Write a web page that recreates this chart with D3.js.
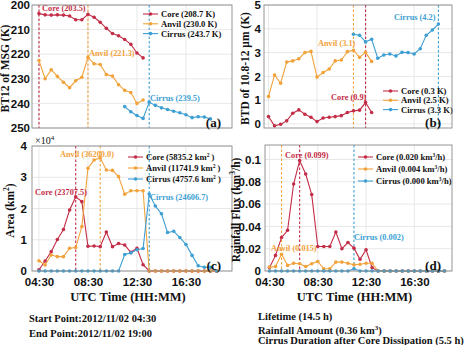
<!DOCTYPE html>
<html>
<head>
<meta charset="utf-8">
<script src="https://cdn.jsdelivr.net/npm/d3@7"></script>
<style>
  body { margin: 0; background: #fff; }
  svg { font-family: "Liberation Serif", "Times New Roman", serif; font-weight: bold; }
</style>
</head>
<body>
<svg id="fig" width="474" height="345"></svg>
<script>
// half-hourly samples of one convective system, 2012/11/02
const timeLabels = ["04:30","05:00","05:30","06:00","06:30","07:00","07:30","08:00","08:30","09:00",
  "09:30","10:00","10:30","11:00","11:30","12:00","12:30","13:00","13:30","14:00",
  "14:30","15:00","15:30","16:00","16:30","17:00","17:30","18:00","18:30","19:00"];
const tickLabels = ["04:30", "08:30", "12:30", "16:30"];
const N = null;

// (a) BT12 of MSG (K)
const coreBT = [203.5,204.0,204.1,204.0,204.1,204.5,206.0,206.0,203.8,205.0,207.0,209.5,211.6,212.5,214.0,216.0,219.5,221.5,N,N,N,N,N,N,N,N,N,N,N,N];
const anvilBT = [222.6,230.0,226.3,229.0,231.4,233.6,230.8,229.4,221.3,223.9,224.2,228.3,228.9,232.4,234.7,235.6,240.0,238.6,N,N,N,N,N,N,N,N,N,N,N,N];
const cirrusBT = [N,N,N,N,N,N,N,N,N,N,N,N,N,N,241.3,243.4,244.9,246.1,239.5,240.8,241.8,242.5,243.2,243.8,244.6,245.8,245.4,245.5,246.3,N];

// (b) BTD of 10.8-12 um (K)
const coreBTD = [0.31,-0.08,-0.01,0.13,0.45,0.59,0.41,0.28,0.10,0.25,0.28,0.31,0.35,0.48,0.55,0.58,0.90,0.48,N,N,N,N,N,N,N,N,N,N,N,N];
const anvilBTD = [1.15,2.06,1.71,2.60,2.65,2.74,3.00,3.05,1.97,2.16,2.31,2.65,2.69,3.04,3.10,2.80,3.01,2.63,N,N,N,N,N,N,N,N,N,N,N,N];
const cirrusBTD = [N,N,N,N,N,N,N,N,N,N,N,N,N,N,3.77,3.73,3.45,3.56,2.76,2.90,2.94,2.86,3.01,3.00,2.94,3.16,3.73,3.95,4.20,N];

// (c) area (km^2)
const coreArea = [400,3200,6200,10100,13300,19500,23707.5,22200,7900,8000,7800,12500,7800,8800,8300,6000,7300,2000,0,0,0,0,0,0,0,0,0,0,0,0];
const anvilArea = [3300,1900,5100,4600,4600,7300,7500,14200,32900,35500,36200,32300,32200,30200,24600,25700,25700,25700,0,0,0,0,0,0,0,0,0,0,0,0];
const cirrusArea = [0,0,0,0,0,0,0,0,0,0,0,0,0,0,5300,5800,6800,7200,24606.7,20800,18300,12300,12700,10700,8500,5000,1700,1200,1200,0];

// (d) rainfall flux (km^3/h)
const coreFlux = [0.003,0.014,0.030,0.0365,0.078,0.099,0.087,0.0685,0.022,0.022,0.022,0.035,0.020,0.0255,0.0205,0.0105,0.019,0.003,0,0,0,0,0,0,0,0,0,0,0,0];
const anvilFlux = [0.0035,0.004,0.015,0.005,0.007,0.0065,0.004,0.0065,0.0085,0.002,0.002,0.008,0.008,0.007,0.0055,0.006,0.007,0.007,0,0,0,0,0,0,0,0,0,0,0,0];
const cirrusFlux = [0,0,0,0,0,0,0,0,0,0,0,0,0,0,0.002,0,0,0,0,0,0,0,0,0,0,0,0,0,0,0];

const legendBT = ["Core (208.7 K)", "Anvil (230.0 K)", "Cirrus (243.7 K)"];
const legendBTD = ["Core (0.3 K)", "Anvil (2.5 K)", "Cirrus (3.3 K)"];
const legendArea = [["Core (5835.2 km", "2", " )"], ["Anvil (11741.9 km", "2", " )"], ["Cirrus (4757.6 km", "2", " )"]];
const legendFlux = [["Core (0.020 km", "3", "/h)"], ["Anvil (0.004 km", "3", "/h)"], ["Cirrus (0.000 km", "3", "/h)"]];
const seriesNames = ["Core", "Anvil", "Cirrus"];
const colors = ["#c42d47", "#f2a23a", "#3d9fd3"];

const hourOf = s => +s.slice(0, 2) + +s.slice(3) / 60;
const hours = timeLabels.map(hourOf);
const tickHours = tickLabels.map(hourOf);

const svg = d3.select("#fig");

function drawPanel(p) {
  const g = svg.append("g");
  const x = d3.scaleLinear().domain(p.xDomain).range([p.left, p.right]);
  const y = d3.scaleLinear().domain(p.yDomain).range([p.bottom, p.top]);

  // grid
  g.selectAll(".vg").data(tickHours).join("line")
    .attr("x1", d => x(d)).attr("x2", d => x(d))
    .attr("y1", p.top).attr("y2", p.bottom)
    .attr("stroke", "#e2e2e2").attr("stroke-width", 0.8);
  g.selectAll(".hg").data(p.yTicks).join("line")
    .attr("x1", p.left).attr("x2", p.right)
    .attr("y1", d => y(d)).attr("y2", d => y(d))
    .attr("stroke", "#e2e2e2").attr("stroke-width", 0.8);

  // y axis
  const yAxis = d3.axisLeft(y).tickValues(p.yTicks).tickFormat(p.yFormat).tickSize(0).tickPadding(p.yPad);
  g.append("g").attr("transform", `translate(${p.left},0)`).call(yAxis)
    .call(a => a.select(".domain").remove())
    .selectAll("text").attr("font-family", null).attr("font-size", 11.5).attr("fill", "#111");

  // x axis labels only on the bottom row
  if (p.showX) {
    const xAxis = d3.axisBottom(x).tickValues(tickHours).tickFormat((d, i) => tickLabels[i]).tickSize(0).tickPadding(p.xPad);
    g.append("g").attr("transform", `translate(0,${p.bottom})`).call(xAxis)
      .call(a => a.select(".domain").remove())
      .selectAll("text").attr("font-family", null).attr("font-size", 11.5).attr("fill", "#111");
    g.append("text").attr("x", (p.left + p.right) / 2 - 4).attr("y", p.bottom + 30)
      .attr("text-anchor", "middle").attr("font-size", 12.5).attr("fill", "#111")
      .text("UTC Time (HH:MM)");
  }

  // y label
  const yl = g.append("text")
    .attr("transform", `translate(${p.yLabelX},${(p.top + p.bottom) / 2 + 2}) rotate(-90)`)
    .attr("text-anchor", "middle").attr("font-size", 11.5).attr("fill", "#111");
  p.yLabel.forEach((part, i) => {
    const t = yl.append("tspan").text(part);
    if (i === 1) t.attr("font-size", 7.5).attr("dy", -5);
    if (i === 2) t.attr("dy", 5);
  });

  // peak markers: dashed verticals
  p.series.forEach((vals, k) => {
    const idx = p.useMin ? d3.minIndex(vals) : d3.maxIndex(vals);
    g.append("line")
      .attr("x1", x(hours[idx])).attr("x2", x(hours[idx]))
      .attr("y1", p.top).attr("y2", p.bottom)
      .attr("stroke", colors[k]).attr("stroke-width", 1.1).attr("stroke-dasharray", "2.5,2");
  });

  // series
  p.series.forEach((vals, k) => {
    const pts = vals.map((v, i) => ({ t: hours[i], v })).filter(d => d.v != null);
    const line = d3.line().x(d => x(d.t)).y(d => y(d.v));
    g.append("path").datum(pts).attr("d", line)
      .attr("fill", "none").attr("stroke", colors[k]).attr("stroke-width", 1.1);
    g.selectAll(null).data(pts).join("circle")
      .attr("cx", d => x(d.t)).attr("cy", d => y(d.v)).attr("r", 1.8)
      .attr("fill", colors[k]);
  });

  // peak labels
  p.series.forEach((vals, k) => {
    const idx = p.useMin ? d3.minIndex(vals) : d3.maxIndex(vals);
    const a = p.notes[k];
    g.append("text").attr("x", a[0]).attr("y", a[1])
      .attr("font-size", 8.3).attr("fill", colors[k])
      .text(`${seriesNames[k]} (${vals[idx].toFixed(p.digits)})`);
  });

  // legend
  p.legend.forEach((lab, k) => {
    const ly = p.legendY + k * p.legendGap;
    g.append("line").attr("x1", p.legendX).attr("x2", p.legendX + 15)
      .attr("y1", ly).attr("y2", ly).attr("stroke", colors[k]).attr("stroke-width", 1.1);
    g.append("circle").attr("cx", p.legendX + 7.5).attr("cy", ly).attr("r", 1.8).attr("fill", colors[k]);
    const t = g.append("text").attr("x", p.legendX + 18).attr("y", ly + 3)
      .attr("font-size", 8.6).attr("fill", "#111");
    const parts = Array.isArray(lab) ? lab : [lab];
    parts.forEach((part, i) => {
      const s = t.append("tspan").text(part);
      if (i === 1) s.attr("font-size", 5.5).attr("dy", -3.5);
      if (i === 2) s.attr("dy", 3.5);
    });
  });

  // box
  g.append("rect").attr("x", p.left).attr("y", p.top)
    .attr("width", p.right - p.left).attr("height", p.bottom - p.top)
    .attr("fill", "none").attr("stroke", "#8a8a8a").attr("stroke-width", 0.9);

  g.append("text").attr("x", p.right - 11).attr("y", p.bottom - 1.5)
    .attr("text-anchor", "end").attr("font-size", 13).attr("fill", "#111").text(p.tag);
}

drawPanel({
  left: 32, right: 232, top: 5, bottom: 128, xDomain: [3.93, 20.26],
  yDomain: [250, 200], yTicks: [200, 210, 220, 230, 240, 250], yFormat: d3.format("d"), yPad: 2,
  yLabel: ["BT12 of MSG (K)"], yLabelX: 9, showX: false,
  series: [coreBT, anvilBT, cirrusBT], useMin: true, digits: 1,
  notes: [[42, 11], [89, 56], [150, 101]],
  legend: legendBT, legendX: 143, legendY: 14, legendGap: 9.8, tag: "(a)"
});

drawPanel({
  left: 264, right: 452, top: 5, bottom: 128, xDomain: [4.13, 19.62],
  yDomain: [-0.17, 5], yTicks: [0, 1, 2, 3, 4, 5], yFormat: d3.format("d"), yPad: 3,
  yLabel: ["BTD of 10.8-12 \u03bcm (K)"], yLabelX: 249, showX: false,
  series: [coreBTD, anvilBTD, cirrusBTD], useMin: false, digits: 1,
  notes: [[331, 100], [318, 46], [394, 20]],
  legend: legendBTD, legendX: 383, legendY: 91, legendGap: 9.3, tag: "(b)"
});

drawPanel({
  left: 32, right: 232, top: 146, bottom: 271, xDomain: [3.93, 20.26],
  yDomain: [0, 40000], yTicks: [0, 10000, 20000, 30000, 40000], yFormat: d => d / 1e4, yPad: 5,
  yLabel: ["Area (km", "2", ")"], yLabelX: 14, showX: true, xPad: 7,
  series: [coreArea, anvilArea, cirrusArea], useMin: false, digits: 1,
  notes: [[35, 195], [60, 157], [150, 200]],
  legend: legendArea, legendX: 128, legendY: 157, legendGap: 11, tag: "(c)"
});

drawPanel({
  left: 265, right: 452, top: 145, bottom: 271, xDomain: [4.13, 19.62],
  yDomain: [0, 0.113], yTicks: [0, 0.02, 0.04, 0.06, 0.08, 0.1], yFormat: d => String(+d.toFixed(2)), yPad: 4,
  yLabel: ["Rainfall Flux (km", "3", "/h)"], yLabelX: 240, showX: true, xPad: 7,
  series: [coreFlux, anvilFlux, cirrusFlux], useMin: false, digits: 3,
  notes: [[285, 158], [271, 251], [354, 240]],
  legend: legendFlux, legendX: 358, legendY: 157, legendGap: 12, tag: "(d)"
});

// exponent above panel (c)
const ex = svg.append("text").attr("x", 35).attr("y", 144).attr("font-size", 10).attr("font-weight", "normal").attr("fill", "#111");
ex.append("tspan").text("\u00d710");
ex.append("tspan").text("4").attr("font-size", 7).attr("dy", -4);

// summary text
const info = [
  { x: 29, y: 322, parts: ["Start Point:2012/11/02 04:30"] },
  { x: 29, y: 337, parts: ["End Point:2012/11/02 19:00"] },
  { x: 258, y: 320, parts: ["Lifetime (14.5 h)"] },
  { x: 258, y: 334, parts: ["Rainfall Amount (0.36 km", "3", ")"] },
  { x: 258, y: 344, parts: ["Cirrus Duration after Core Dissipation (5.5 h)"] }
];
info.forEach(r => {
  const t = svg.append("text").attr("x", r.x).attr("y", r.y).attr("font-size", 10.5).attr("fill", "#111");
  r.parts.forEach((part, i) => {
    const s = t.append("tspan").text(part);
    if (i === 1) s.attr("font-size", 7).attr("dy", -4);
    if (i === 2) s.attr("dy", 4);
  });
});
</script>
</body>
</html>
